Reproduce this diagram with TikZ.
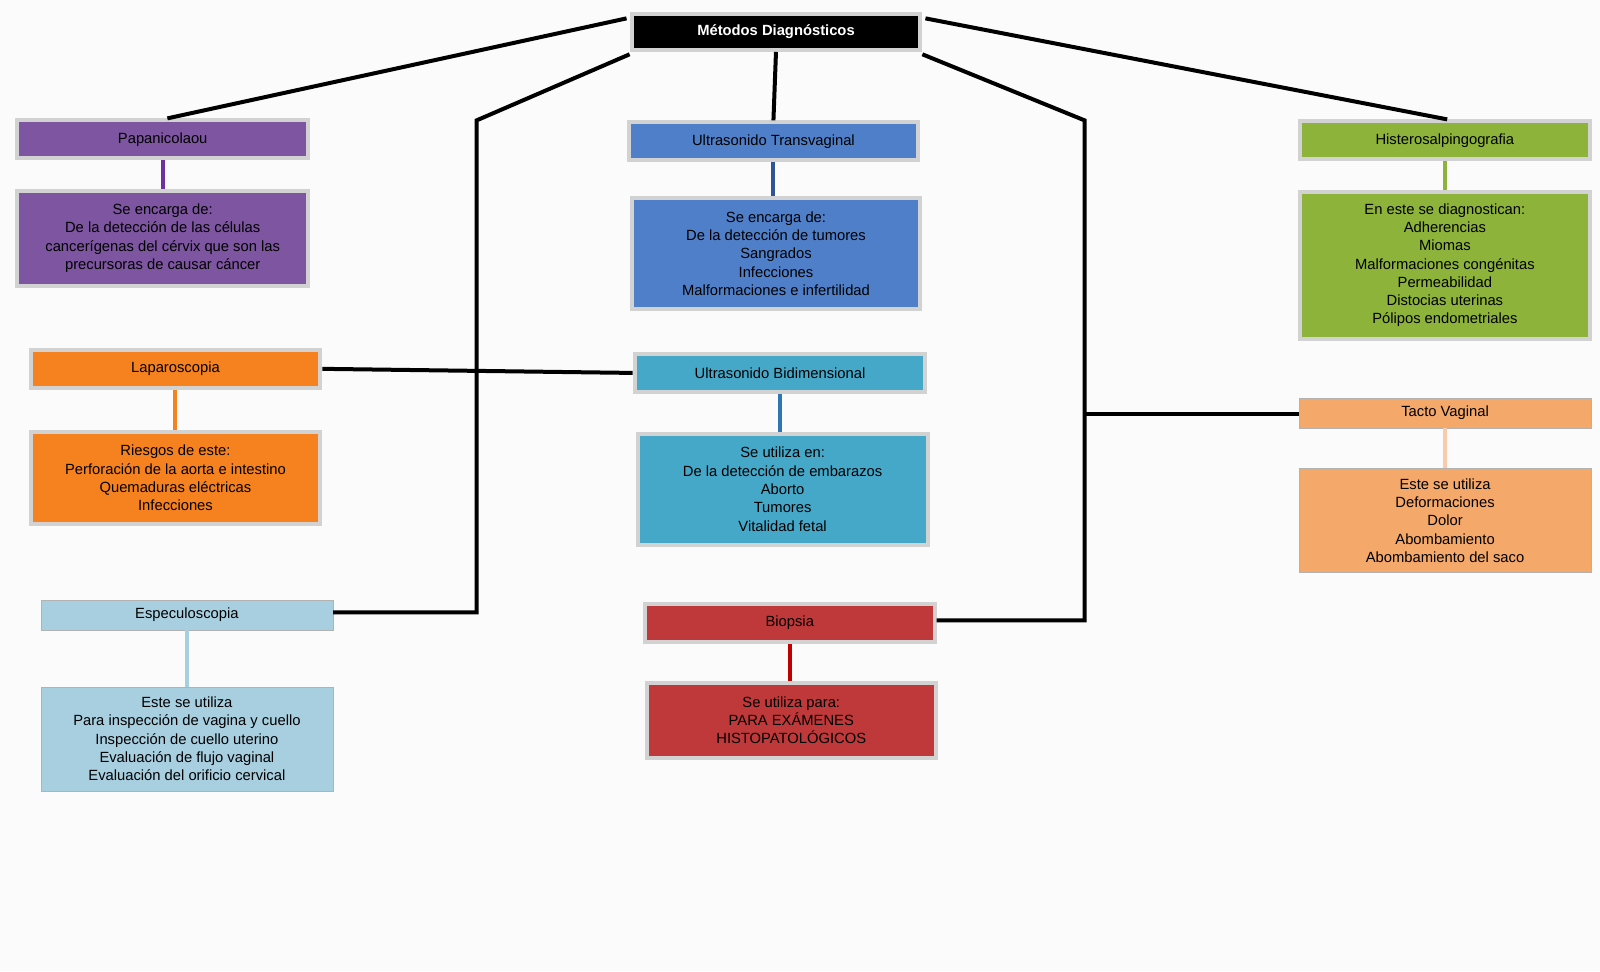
\documentclass[tikz,border=0pt]{standalone}
\usepackage{fontspec}
\setmainfont{Liberation Sans}
\usetikzlibrary{positioning}
\definecolor{cPap}{HTML}{7D55A0}
\definecolor{cTra}{HTML}{4F7FC8}
\definecolor{cHis}{HTML}{8DB33A}
\definecolor{cLap}{HTML}{F5821F}
\definecolor{cBid}{HTML}{46A8C8}
\definecolor{cTac}{HTML}{F4A86A}
\definecolor{cEsp}{HTML}{A8CFE0}
\definecolor{cBio}{HTML}{C0393A}
\definecolor{lPap}{HTML}{7030A0}
\definecolor{lTra}{HTML}{2F5597}
\definecolor{lHis}{HTML}{8DB33A}
\definecolor{lLap}{HTML}{F5821F}
\definecolor{lBid}{HTML}{2E75B6}
\definecolor{lTac}{HTML}{F8CBAD}
\definecolor{lEsp}{HTML}{A8CFE0}
\definecolor{lBio}{HTML}{C00000}
\tikzset{
  px/.style={x=0.3061mm,y=-0.3061mm},
  box/.style={draw=gray!35,line width=1.2mm,inner sep=0pt,anchor=north west,
    font=\fontsize{12.6}{15.6}\selectfont,align=center},
  flat/.style={draw=gray!60,line width=0.3pt,inner sep=0pt,anchor=north west,
    font=\fontsize{12.6}{15.6}\selectfont,align=center},
  link/.style={line width=1.2mm,black},
}
\newcommand{\bx}[7]{% style, name, colour, x, y, w, h, text
  \node[#1,fill=#3,minimum width=#6*0.3061mm,minimum height=#7*0.3061mm] (#2) at (#4,#5)}
\begin{document}
\begin{tikzpicture}[px]
\fill[white!97!gray] (0,0) rectangle (1568,951.6);
\useasboundingbox (0,0) rectangle (1568,951.6);
% title
\node[box,fill=black,text=white,font=\bfseries\fontsize{12.6}{15}\selectfont,
  minimum width=283*0.3061mm,minimum height=35*0.3061mm] (title) at (617,12) {Métodos Diagnósticos};
% headers
\bx{box}{pap}{cPap}{15}{116}{285}{37} {Papanicolaou};
\bx{box}{tra}{cTra}{614}{118}{284}{37} {Ultrasonido Transvaginal};
\bx{box}{his}{cHis}{1272}{117}{284}{37} {Histerosalpingografia};
\bx{box}{lap}{cLap}{28}{341}{284}{37} {Laparoscopia};
\bx{box}{bid}{cBid}{620}{345}{285}{37} {Ultrasonido Bidimensional};
\bx{flat}{tac}{cTac}{1273}{390}{286}{29} {Tacto Vaginal};
\bx{flat}{esp}{cEsp}{40}{588}{286}{29} {Especuloscopia};
\bx{box}{bio}{cBio}{630}{590}{284}{37} {Biopsia};
% details
\bx{box}{papD}{cPap}{15}{185}{285}{93} {Se encarga de:\\De la detección de las células\\cancerígenas del cérvix que son las\\precursoras de causar cáncer};
\bx{box}{traD}{cTra}{617}{192}{283}{109} {Se encarga de:\\De la detección de tumores\\Sangrados\\Infecciones\\Malformaciones e infertilidad};
\bx{box}{hisD}{cHis}{1272}{186}{284}{144} {En este se diagnostican:\\Adherencias\\Miomas\\Malformaciones congénitas\\Permeabilidad\\Distocias uterinas\\Pólipos endometriales};
\bx{box}{lapD}{cLap}{28}{421}{284}{91} {Riesgos de este:\\Perforación de la aorta e intestino\\Quemaduras eléctricas\\Infecciones};
\bx{box}{bidD}{cBid}{623}{423}{284}{109} {Se utiliza en:\\De la detección de embarazos\\Aborto\\Tumores\\Vitalidad fetal};
\bx{flat}{tacD}{cTac}{1273}{459}{286}{102} {Este se utiliza\\Deformaciones\\Dolor\\Abombamiento\\Abombamiento del saco};
\bx{flat}{espD}{cEsp}{40}{673}{286}{102} {Este se utiliza\\Para inspección de vagina y cuello\\Inspección de cuello uterino\\Evaluación de flujo vaginal\\Evaluación del orificio cervical};
\bx{box}{bioD}{cBio}{632}{667}{283}{74} {Se utiliza para:\\PARA EXÁMENES\\HISTOPATOLÓGICOS};
% header to detail
\foreach \h/\c in {pap/lPap,tra/lTra,his/lHis,lap/lLap,bid/lBid,tac/lTac,esp/lEsp,bio/lBio}
  \draw[line width=1.2mm,\c] (\h.south) -- (\h D.north -| \h.south);
\draw[link] ([shift={(-3,6)}]title.north west) -- ([xshift=4pt]pap.north);
\draw[link] ([yshift=-2pt]title.south west) -- (467,118) -- (467,600) coordinate (l1) -- (esp.east |- l1);
\draw[link] (title.south) -- (tra.north);
\draw[link] ([shift={(3,6)}]title.north east) -- ([xshift=2pt]his.north);
\draw[link] ([yshift=-2pt]title.south east) -- (1063,118) -- (1063,608) coordinate (r1) -- (bio.east |- r1);
\draw[link] (1063,406) coordinate (r2) -- (tac.west |- r2);
\draw[link] (lap.east) -- (bid.west);
\end{tikzpicture}
\end{document}
